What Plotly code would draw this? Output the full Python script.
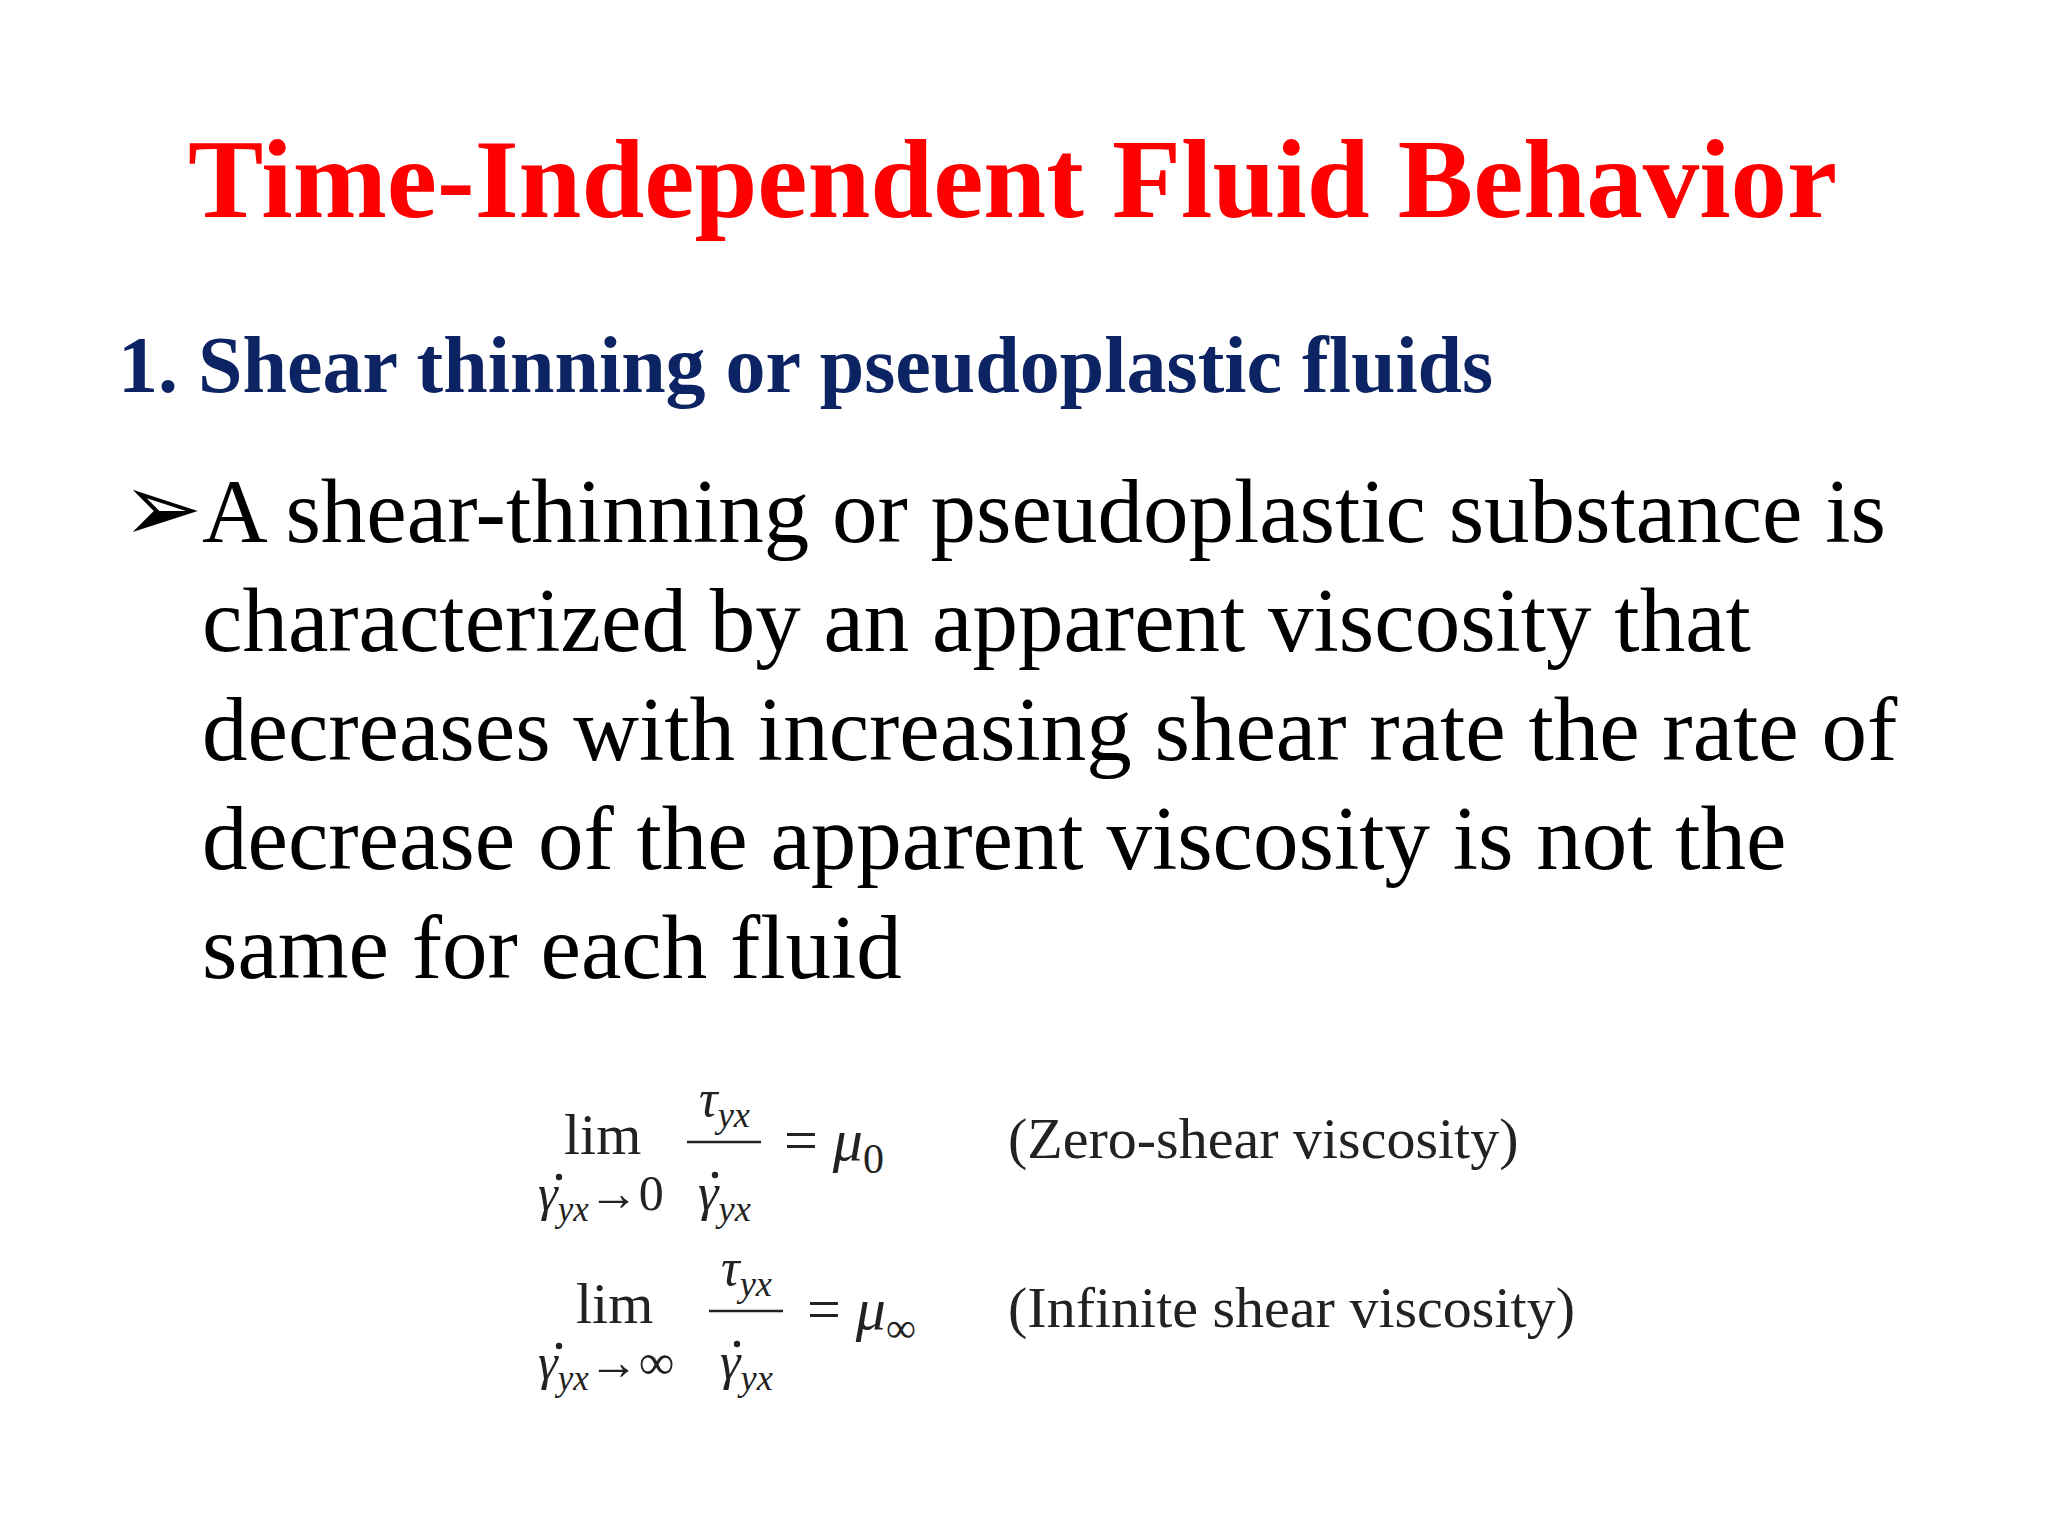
import plotly.graph_objects as go

W, H = 2048, 1536

title_text = "Time-Independent Fluid Behavior"
subtitle_text = "1. Shear thinning or pseudoplastic fluids"
bullet_lines = [
    "A shear-thinning or pseudoplastic substance is",
    "characterized by an apparent viscosity that",
    "decreases with increasing shear rate the rate of",
    "decrease of the apparent viscosity is not the",
    "same for each fluid",
]
bullet_line_y = [503, 612, 721, 830, 939]

# formula rows: lim subscript, numerator, denominator, right side, description
lim_sub = ["<i>γ</i><sub><i>yx</i></sub>→0", "<i>γ</i><sub><i>yx</i></sub>→∞"]
numer = ["<i>τ</i><sub><i>yx</i></sub>", "<i>τ</i><sub><i>yx</i></sub>"]
denom = ["<i>γ</i><sub><i>yx</i></sub>", "<i>γ</i><sub><i>yx</i></sub>"]
rhs = ["= <i>μ</i><sub>0</sub>", "= <i>μ</i><sub>∞</sub>"]
descr = ["(Zero-shear viscosity)", "(Infinite shear viscosity)"]
row_y = [1134, 1303]
lim_x = [594, 606]
sub_x = [528, 528]
frac_x = [716, 738]
frac_half = [37, 37]
rhs_x = [774, 797]
descr_x = [998, 998]

SERIF = "Liberation Serif, Times New Roman, serif"
FCOL = "#222222"

fig = go.Figure()
fig.add_trace(go.Scatter(x=[0, W], y=[0, H], mode="markers",
                         marker=dict(opacity=0), hoverinfo="skip", showlegend=False))

ann = []
ann.append(dict(x=1004, y=170, text="<b>" + title_text + "</b>", showarrow=False,
                xanchor="center", yanchor="middle",
                font=dict(family=SERIF, size=113, color="#FF0000")))
ann.append(dict(x=108, y=357, text="<b>" + subtitle_text + "</b>", showarrow=False,
                xanchor="left", yanchor="middle",
                font=dict(family=SERIF, size=80, color="#0C2463")))
ann.append(dict(x=112, y=500, text="➢", showarrow=False, xanchor="left", yanchor="middle",
                font=dict(family="DejaVu Sans", size=96, color="#000000")))
for t, yy in zip(bullet_lines, bullet_line_y):
    ann.append(dict(x=192, y=yy, text=t, showarrow=False, xanchor="left", yanchor="middle",
                    font=dict(family=SERIF, size=91, color="#000000")))


def dot(cx, cy, r=3.2):
    return dict(type="circle", x0=cx - r, x1=cx + r, y0=cy - r, y1=cy + r,
                fillcolor=FCOL, line=dict(width=0))


shapes = []
for i in range(2):
    yy = row_y[i]
    ann.append(dict(x=lim_x[i], y=yy - 8, text="lim", showarrow=False, xanchor="center",
                    yanchor="middle", font=dict(family=SERIF, size=58, color=FCOL)))
    ann.append(dict(x=sub_x[i], y=yy + 55, text=lim_sub[i], showarrow=False, xanchor="left",
                    yanchor="middle", font=dict(family=SERIF, size=50, color=FCOL)))
    shapes.append(dot(sub_x[i] + 23, yy + 35))
    ann.append(dict(x=frac_x[i], y=yy - 40, text=numer[i], showarrow=False, xanchor="center",
                    yanchor="middle", font=dict(family=SERIF, size=52, color=FCOL)))
    ann.append(dict(x=frac_x[i], y=yy + 54, text=denom[i], showarrow=False, xanchor="center",
                    yanchor="middle", font=dict(family=SERIF, size=52, color=FCOL)))
    shapes.append(dot(frac_x[i] - 9, yy + 33))
    shapes.append(dict(type="line", x0=frac_x[i] - frac_half[i], x1=frac_x[i] + frac_half[i],
                       y0=yy, y1=yy, line=dict(color=FCOL, width=2.5)))
    ann.append(dict(x=rhs_x[i], y=yy + 2, text=rhs[i], showarrow=False, xanchor="left",
                    yanchor="middle", font=dict(family=SERIF, size=60, color=FCOL)))
    ann.append(dict(x=descr_x[i], y=yy - 4, text=descr[i], showarrow=False, xanchor="left",
                    yanchor="middle", font=dict(family=SERIF, size=58, color=FCOL)))

fig.update_layout(
    width=W, height=H,
    margin=dict(l=0, r=0, t=0, b=0),
    paper_bgcolor="white", plot_bgcolor="white",
    xaxis=dict(range=[0, W], visible=False, fixedrange=True),
    yaxis=dict(range=[H, 0], visible=False, fixedrange=True),
    annotations=ann, shapes=shapes, showlegend=False,
)
fig.write_html("out.html")
